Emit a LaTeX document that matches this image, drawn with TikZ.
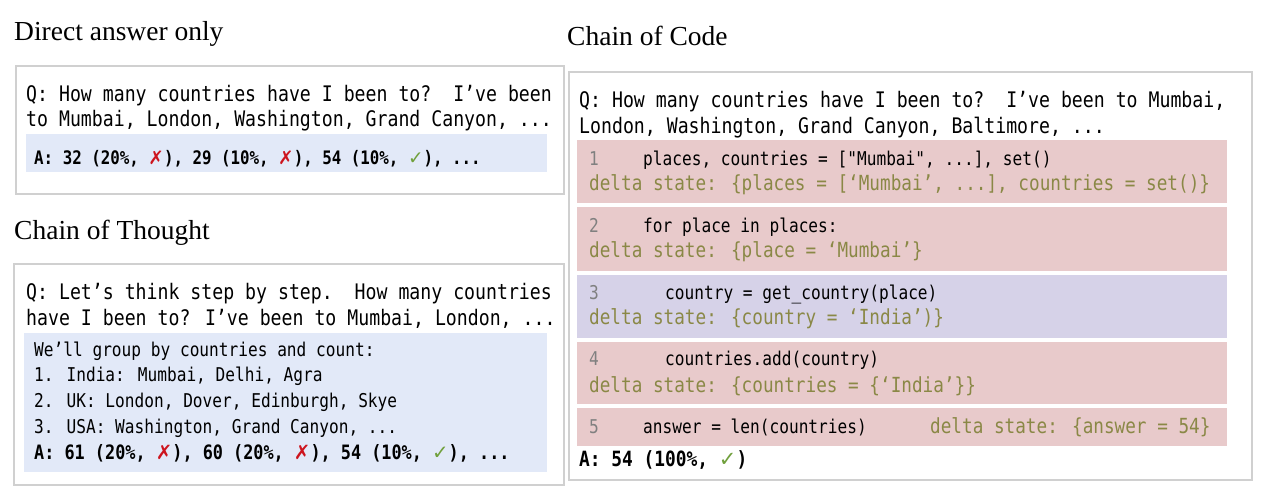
\documentclass[tikz,border=0pt]{standalone}
\usepackage{fontspec}
\usepackage{tikz}
\newfontfamily\codefont[FakeStretch=0.85]{DejaVu Sans Mono}
\newfontfamily\symfont{DejaVu Sans}
\newfontfamily\titlefont{Liberation Serif}

\definecolor{framegray}{RGB}{208,208,208}
\definecolor{bluebg}{RGB}{226,233,248}
\definecolor{redbg}{RGB}{232,202,203}
\definecolor{purplebg}{RGB}{214,210,232}
\definecolor{deltacol}{RGB}{138,136,70}
\definecolor{numcol}{RGB}{128,128,128}
\definecolor{wrongcol}{RGB}{205,20,30}
\definecolor{rightcol}{RGB}{112,160,60}

\newcommand{\wrong}{{\symfont\color{wrongcol}✗}}
\newcommand{\okmark}{{\symfont\color{rightcol}✓}}

\tikzset{
  title/.style={anchor=base west, inner sep=0, font=\titlefont\fontsize{27.5}{30}\selectfont},
  panel/.style={draw=framegray, line width=1.5pt, fill=white},
  qline/.style={anchor=base west, inner sep=0, font=\codefont\fontsize{21.4}{24}\selectfont},
  inline/.style={anchor=base west, inner sep=0, font=\codefont\fontsize{19}{22}\selectfont},
  ansline/.style={anchor=base west, inner sep=0, font=\codefont\bfseries\fontsize{18.6}{22}\selectfont},
  numline/.style={anchor=base west, inner sep=0, text=numcol, font=\codefont\fontsize{19}{22}\selectfont},
  deltaline/.style={anchor=base west, inner sep=0, text=deltacol, font=\codefont\fontsize{20.8}{24}\selectfont}
}

\begin{document}
\begin{tikzpicture}[x=1pt, y=-1pt]
  \useasboundingbox (0,0) rectangle (1262,494);
  \fill[white] (0,0) rectangle (1262,494);

  % direct answer
  \node[title] (directtitle) at (14,41) {Direct answer only};
  \draw[panel] (16,66) rectangle (564,194);
  \fill[bluebg] (26,134) rectangle (547,172);
  \node[qline] (directq1) at (26,102) {Q: How many countries have I been to?\ \ I’ve been};
  \node[qline] (directq2) at (26,127) {to Mumbai, London, Washington, Grand Canyon, ...};
  \node[ansline] (directa) at (34,165) {A: 32 (20\%, \wrong), 29 (10\%, \wrong), 54 (10\%, \okmark), ...};

  % chain of thought
  \node[title] (cottitle) at (14,240) {Chain of Thought};
  \draw[panel] (14,264) rectangle (564,485);
  \fill[bluebg] (24,333) rectangle (547,472);
  \node[qline] (cotq1) at (26,300) {Q: Let’s think step by step.\ \ How many countries};
  \node[qline] (cotq2) at (26,326) {have I been to? I’ve been to Mumbai, London, ...};
  \node[inline] (cot1) at (34,357) {We’ll group by countries and count:};
  \node[inline] (cot2) at (34,382) {1. India: Mumbai, Delhi, Agra};
  \node[inline] (cot3) at (34,408) {2. UK: London, Dover, Edinburgh, Skye};
  \node[inline] (cot4) at (34,433) {3. USA: Washington, Grand Canyon, ...};
  \node[ansline, font=\codefont\bfseries\fontsize{19.8}{22}\selectfont] (cota) at (34,460)
    {A: 61 (20\%, \wrong), 60 (20\%, \wrong), 54 (10\%, \okmark), ...};

  % chain of code
  \node[title] (coctitle) at (567,46) {Chain of Code};
  \draw[panel] (569,72) rectangle (1252,480);
  \node[qline] (cocq1) at (579,108) {Q: How many countries have I been to?\ \ I’ve been to Mumbai,};
  \node[qline] (cocq2) at (579,134) {London, Washington, Grand Canyon, Baltimore, ...};

  \fill[redbg] (577,140) rectangle (1227,203);
  \node[numline] (num1) at (589,166) {1};
  \node[inline] (code1) at (643,166) {places, countries = ["Mumbai", ...], set()};
  \node[deltaline] (delta1) at (589,191) {delta state: \{places = [‘Mumbai’, ...], countries = set()\}};

  \fill[redbg] (577,207) rectangle (1227,271);
  \node[numline] (num2) at (589,233) {2};
  \node[inline] (code2) at (643,233) {for place in places:};
  \node[deltaline] (delta2) at (589,258) {delta state: \{place = ‘Mumbai’\}};

  \fill[purplebg] (577,275) rectangle (1227,338);
  \node[numline] (num3) at (589,300) {3};
  \node[inline] (code3) at (665,300) {country = get\_country(place)};
  \node[deltaline] (delta3) at (589,325) {delta state: \{country = ‘India’)\}};

  \fill[redbg] (577,342) rectangle (1227,404);
  \node[numline] (num4) at (589,366) {4};
  \node[inline] (code4) at (665,366) {countries.add(country)};
  \node[deltaline] (delta4) at (589,392) {delta state: \{countries = \{‘India’\}\}};

  \fill[redbg] (577,408) rectangle (1227,446);
  \node[numline] (num5) at (589,433) {5};
  \node[inline] (code5) at (643,433) {answer = len(countries)};
  \node[deltaline] (delta5) at (930,433) {delta state: \{answer = 54\}};

  \node[qline, font=\codefont\bfseries\fontsize{21}{24}\selectfont] (coca) at (579,466) {A: 54 (100\%, \okmark)};
\end{tikzpicture}
\end{document}
